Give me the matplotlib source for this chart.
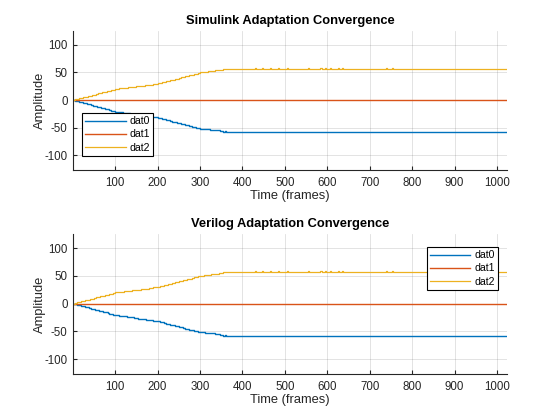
import matplotlib.pyplot as plt

# step points (frame, level); each level holds until the next frame
frames_up = [1, 5, 10, 15, 20, 25, 30, 35, 40, 45, 50, 55, 60, 65, 70, 75, 80, 85, 90, 95, 100,
             110, 120, 130, 140, 150, 160, 170, 180, 190, 200,
             205, 210, 215, 220, 225, 230, 235, 240, 245, 250, 255, 260, 265, 270, 275, 280,
             285, 290, 295, 300,
             309, 318, 327, 336, 345, 354, 362,
             429, 432, 446, 448, 465, 468, 483, 485, 505, 507, 554, 556, 583, 588,
             595, 597, 606, 609, 625, 627, 634, 636, 738, 740, 752, 754, 1024]
dat2 = [0, 1, 2, 3, 4, 5, 6, 7, 8, 9, 10, 11, 12, 13, 14, 15, 16, 17, 18, 19, 20,
        21, 22, 23, 24, 25, 26, 27, 28, 29, 30,
        31, 32, 33, 34, 35, 36, 37, 38, 39, 40, 41, 42, 43, 44, 45, 46,
        47, 48, 49, 50,
        51, 52, 53, 54, 55, 56, 57,
        58, 57, 58, 57, 58, 57, 58, 57, 58, 57, 58, 57, 58, 57,
        58, 57, 58, 57, 58, 57, 58, 57, 58, 57, 58, 57, 57]

frames_dn = [1, 5, 10, 14, 19, 24, 29, 34, 38, 43, 48, 53, 58, 62, 67, 72, 77, 82, 86, 91, 96, 100,
             109, 118, 127, 136, 145, 154, 163, 172, 181, 190, 200,
             205, 210, 215, 220, 225, 230, 235, 240, 245, 250, 255, 260, 265, 270, 275, 280,
             285, 290, 295, 300,
             312, 324, 336, 348, 354, 358, 362, 1024]
dat0 = [0, -1, -2, -3, -4, -5, -6, -7, -8, -9, -10, -11, -12, -13, -14, -15, -16, -17, -18, -19, -20, -21,
        -22, -23, -24, -25, -26, -27, -28, -29, -30, -31, -32,
        -33, -34, -35, -36, -37, -38, -39, -40, -41, -42, -43, -44, -45, -46, -47, -48,
        -49, -50, -51, -52,
        -53, -54, -55, -56, -58, -57, -58, -58]

frames_zero = [1, 1024]
dat1 = [0, 0]

titles = ["Simulink Adaptation Convergence", "Verilog Adaptation Convergence"]
xticks = [100, 200, 300, 400, 500, 600, 700, 800, 900, 1000]
yticks = [-100, -50, 0, 50, 100]

plt.rcParams['font.family'] = ['Liberation Sans', 'DejaVu Sans']
plt.rcParams['axes.unicode_minus'] = False
colors = ["#0072BD", "#D95319", "#EDB120"]
fig = plt.figure(figsize=(5.6, 4.2), dpi=100)
positions = [[0.1307, 0.595, 0.775, 0.331], [0.1307, 0.1095, 0.775, 0.333]]
legend_locs = [dict(loc="upper left", bbox_to_anchor=(0.021, 0.41)),
               dict(loc="upper right", bbox_to_anchor=(0.979, 0.907))]

for i in range(2):
    ax = fig.add_axes(positions[i])
    ax.plot(frames_dn, dat0, drawstyle="steps-post", color=colors[0], lw=1.0, label="dat0")
    ax.plot(frames_zero, dat1, drawstyle="steps-post", color=colors[1], lw=1.0, label="dat1")
    ax.plot(frames_up, dat2, drawstyle="steps-post", color=colors[2], lw=0.9, label="dat2")
    ax.set_xlim(1, 1024)
    ax.set_ylim(-127, 125)
    ax.set_xticks(xticks)
    ax.set_yticks(yticks)
    ax.grid(True, color="#262626", alpha=0.15, lw=0.6)
    ax.set_axisbelow(True)
    for s in ["top", "right"]:
        ax.spines[s].set_visible(False)
    for s in ["left", "bottom"]:
        ax.spines[s].set_color("#262626")
        ax.spines[s].set_linewidth(0.8)
    ax.tick_params(direction="in", length=3, width=0.8, colors="#262626", labelsize=8.3)
    ax.tick_params(axis="x", pad=5)
    ax.tick_params(axis="y", pad=4)
    ax.set_title(titles[i], fontsize=9.3, fontweight="bold", color="#000000", pad=5)
    ax.set_xlabel("Time (frames)", fontsize=9.3, color="#262626", labelpad=1)
    ax.set_ylabel("Amplitude", fontsize=9.3, color="#262626", labelpad=-1)
    leg = ax.legend(fontsize=7.6, frameon=True, fancybox=False, edgecolor="black",
                    framealpha=1, handlelength=3.8, borderpad=0.3, labelspacing=0.3,
                    handletextpad=0.4, borderaxespad=0, **legend_locs[i])
    leg.get_frame().set_linewidth(0.8)

fig.savefig("out.png", dpi=100)
